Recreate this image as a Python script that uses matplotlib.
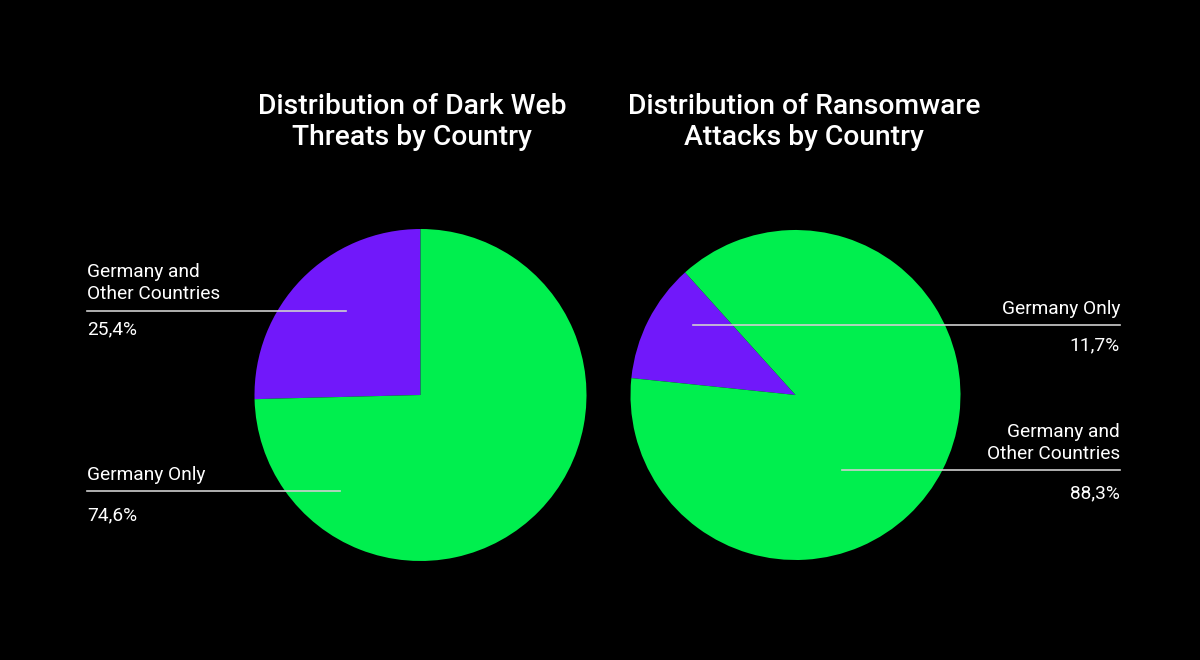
import matplotlib
matplotlib.use("Agg")
import matplotlib.pyplot as plt
from matplotlib.lines import Line2D

# Data
titles = ["Distribution of Dark Web\nThreats by Country",
          "Distribution of Ransomware\nAttacks by Country"]
left_labels = ["Germany and\nOther Countries", "Germany Only"]
left_values = [25.4, 74.6]
right_labels = ["Germany Only", "Germany and\nOther Countries"]
right_values = [11.7, 88.3]

PURPLE = "#7118FA"
GREEN = "#00EF4E"
W, H = 1200, 660

fig = plt.figure(figsize=(12, 6.6), dpi=100, facecolor="black")

def px_axes(cx, cy, r):
    return fig.add_axes([(cx - r) / W, (H - cy - r) / H, 2 * r / W, 2 * r / H])

def draw_pie(ax, values, start):
    ax.pie(values, colors=[PURPLE, GREEN], startangle=start, counterclock=True,
           wedgeprops=dict(linewidth=0))
    ax.set_xlim(-1, 1)
    ax.set_ylim(-1, 1)
    ax.set_aspect("equal")
    ax.axis("off")

ax1 = px_axes(420.5, 395, 166)
draw_pie(ax1, left_values, 90)
ax2 = px_axes(795.5, 395, 165)
draw_pie(ax2, right_values, 132)

def fx(x):
    return x / W

def fy(y):
    return 1 - y / H

title_font = dict(family=["Roboto", "DejaVu Sans"], fontweight="medium", color="white",
                  fontsize=20.3, ha="center", va="baseline", linespacing=1.18)
fig.text(fx(412), fy(145), titles[0], **title_font)
fig.text(fx(804), fy(145), titles[1], **title_font)

lab = dict(family=["Roboto", "DejaVu Sans"], color="white", fontsize=13.8,
           va="baseline", linespacing=1.3)
LC = "#cfcfcf"

def hline(x0, x1, y):
    fig.add_artist(Line2D([fx(x0), fx(x1)], [fy(y), fy(y)], transform=fig.transFigure,
                          color=LC, linewidth=1.2))

def pct(v):
    return f"{v:.1f}".replace(".", ",") + "%"

# left pie labels
fig.text(fx(87), fy(299), left_labels[0], ha="left", **lab)
hline(87, 346, 311)
fig.text(fx(87), fy(334), pct(left_values[0]), ha="left", **lab)

fig.text(fx(87), fy(480), left_labels[1], ha="left", **lab)
hline(87, 340, 491)
fig.text(fx(87), fy(520), pct(left_values[1]), ha="left", **lab)

# right pie labels
fig.text(fx(1120), fy(314), right_labels[0], ha="right", **lab)
hline(693, 1120, 325)
fig.text(fx(1120), fy(350), pct(right_values[0]), ha="right", **lab)

fig.text(fx(1120), fy(459), right_labels[1], ha="right", **lab)
hline(842, 1120, 470)
fig.text(fx(1120), fy(498), pct(right_values[1]), ha="right", **lab)

fig.savefig("out.png", dpi=100, facecolor="black")
